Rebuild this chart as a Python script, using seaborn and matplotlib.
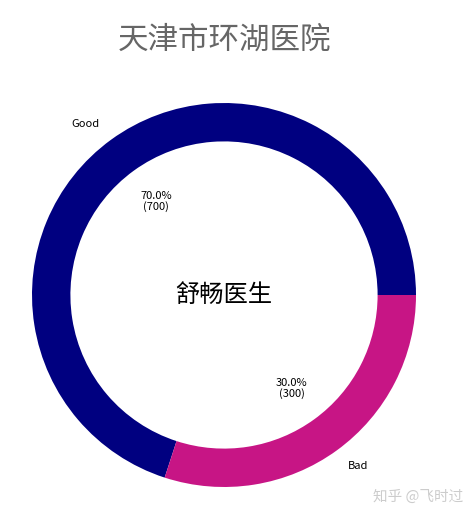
import matplotlib
matplotlib.use("Agg")
import matplotlib.pyplot as plt
import seaborn as sns

categories = ["Good", "Bad"]
values = [700, 300]
colors = ["#000080", "#C71585"]
title = "天津市环湖医院"
center_text = "舒畅医生"
watermark = "知乎 @飞时过"

sns.set_theme(style="white")
plt.rcParams['font.family'] = ['Noto Sans CJK SC', 'DejaVu Sans']

W, H = 474, 518
fig = plt.figure(figsize=(W / 100, H / 100), dpi=100)
ax = fig.add_axes([0, 0, 1, 1])

total = sum(values)

def fmt(p):
    return f"{p:.1f}%\n({int(round(p * total / 100))})"

wedges, texts, autotexts = ax.pie(values, labels=categories, colors=colors,
                                  autopct=fmt, startangle=0, pctdistance=0.6,
                                  labeldistance=1.1,
                                  wedgeprops=dict(width=0.2, linewidth=0),
                                  textprops=dict(fontsize=8, color="black"))
for t in autotexts:
    t.set_linespacing(1.0)

cx, cy, R = 224, 223, 192
ax.set_xlim(-cx / R, (W - cx) / R)
ax.set_ylim(-cy / R, (H - cy) / R)
ax.set_aspect('auto')
ax.axis('off')

ax.text(0, 0, center_text, ha='center', va='center', fontsize=17.5, color='black')
fig.text(224 / W, 1 - 40 / H, title, ha='center', va='center', fontsize=22, color='#666666')
fig.text(418 / W, 1 - 497 / H, watermark, ha='center', va='center', fontsize=10.5, color='#cccccc')

fig.savefig("out.png", dpi=100, facecolor='white')
